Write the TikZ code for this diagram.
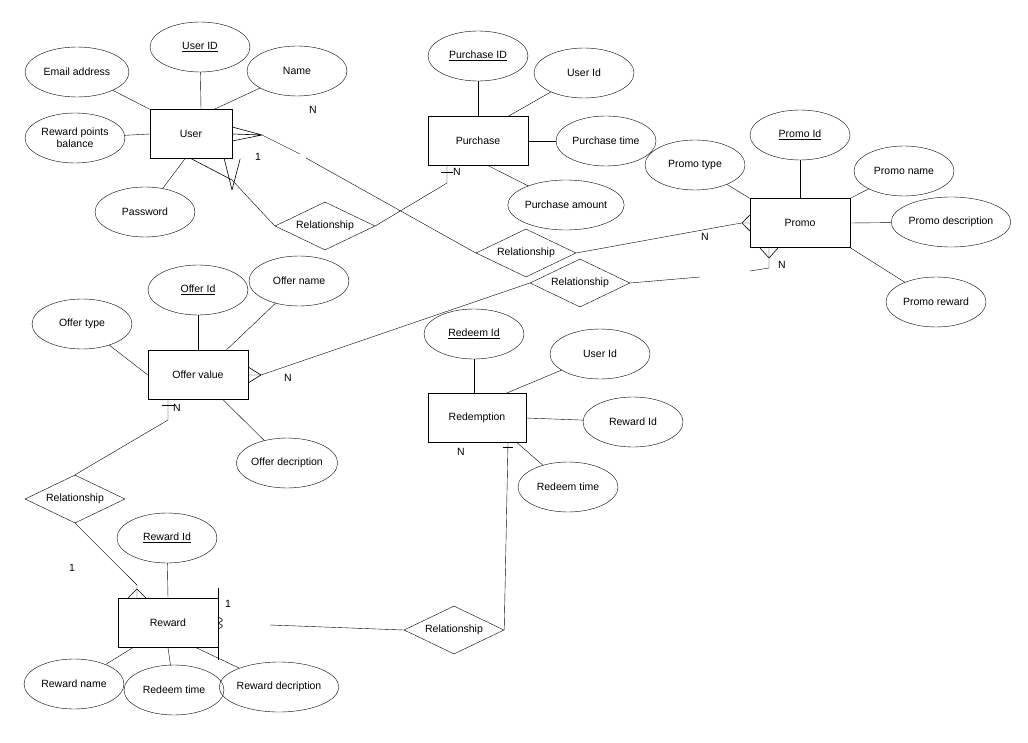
\documentclass[tikz,border=0pt]{standalone}
\usepackage{fontspec}
\setmainfont{Liberation Sans}
\usetikzlibrary{shapes.geometric}
\begin{document}
\begin{tikzpicture}[x=1pt,y=-1pt,
  every node/.style={font=\fontsize{10.5}{12}\selectfont},
  ent/.style={draw,minimum width=100pt,minimum height=49pt,inner sep=0},
  att/.style={draw,ellipse,minimum width=100pt,minimum height=50pt,inner sep=0,align=center},
  rel/.style={draw,diamond,aspect=2.2,minimum width=100pt,minimum height=48pt,inner sep=0},
  lbl/.style={font=\fontsize{10.5}{12}\selectfont},
  cf/.style={line width=0.6pt}]
\useasboundingbox (0,0) rectangle (1028,743);
\fill[white] (0,0) rectangle (1028,743);
% entities
\node[ent,minimum width=82pt] (user) at (191,134) {User};
\node[ent] (pur) at (478,141) {Purchase};
\node[ent] (promo) at (800,223) {Promo};
\node[ent] (offer) at (198,375) {Offer value};
\node[ent,minimum width=98pt] (red) at (477,418) {Redemption};
\node[ent] (rew) at (168,623) {Reward};
% attributes
\node[att] (uid) at (200,47) {\underline{User ID}};
\node[att,minimum width=104pt] (email) at (77,72) {Email address};
\node[att] (name) at (297,71) {Name};
\node[att] (rpb) at (75,138) {Reward points\\balance};
\node[att] (pw) at (145,212) {Password};
\node[att] (pid) at (478,56) {\underline{Purchase ID}};
\node[att] (puid) at (584,73) {User Id};
\node[att] (ptime) at (606,141) {Purchase time};
\node[att] (pamt) at (566,205) {Purchase amount};
\node[att] (ptype) at (695,165) {Promo type};
\node[att] (prid) at (800,135) {\underline{Promo Id}};
\node[att] (pname) at (904,171) {Promo name};
\node[att] (pdesc) at (951,222) {Promo description};
\node[att] (prew) at (936,302) {Promo reward};
\node[att] (oid) at (198,290) {\underline{Offer Id}};
\node[att] (oname) at (299,281) {Offer name};
\node[att] (otype) at (82,324) {Offer type};
\node[att] (odesc) at (287,463) {Offer decription};
\node[att] (rid) at (474,334) {\underline{Redeem Id}};
\node[att] (ruid) at (600,354) {User Id};
\node[att] (rwid) at (633,422) {Reward Id};
\node[att] (rtime) at (568,487) {Redeem time};
\node[att] (wid) at (167,538) {\underline{Reward Id}};
\node[att] (wname) at (74,684) {Reward name};
\node[att] (wtime) at (174,690) {Redeem time};
\node[att] (wdesc) at (279,687) {Reward decription};
% relationships
\node[rel] (r1) at (325,226) {Relationship};
\node[rel] (r2) at (526,253) {Relationship};
\node[rel] (r3) at (580,283) {Relationship};
\node[rel] (r4) at (75,499) {Relationship};
\node[rel] (r5) at (454,630) {Relationship};
% attribute lines
\draw (uid) -- ([xshift=10pt]user.north);
\draw (email) -- (user.north west);
\draw (name) -- ([xshift=-18pt]user.north east);
\draw (rpb) -- (user.west);
\draw (pw) -- ([xshift=-6pt]user.south);
\draw (pid) -- (pur.north);
\draw (puid) -- ([xshift=-20pt]pur.north east);
\draw (ptime) -- (pur.east);
\draw (pamt) -- ([xshift=-40pt]pur.south east);
\draw (ptype) -- (promo.north west);
\draw (prid) -- (promo.north);
\draw (pname) -- (promo.north east);
\draw (pdesc) -- (promo.east);
\draw (prew) -- (promo.south east);
\draw (oid) -- (offer.north);
\draw (oname) -- ([xshift=28pt]offer.north);
\draw (otype) -- (offer.west);
\draw (odesc) -- ([xshift=25pt]offer.south);
\draw (rid) -- ([xshift=-3pt]red.north);
\draw (ruid) -- ([xshift=-20pt]red.north east);
\draw (rwid) -- (red.east);
\draw (rtime) -- ([xshift=40pt]red.south);
\draw (wid) -- (rew.north);
\draw (wname) -- ([xshift=15pt]rew.south west);
\draw (wtime) -- (rew.south);
\draw (wdesc) -- ([xshift=-22pt]rew.south east);
% User -- Relationship2 -- Promo
\coordinate (ua) at (262,135);
\coordinate (ub) at (300,154);
\coordinate (uc) at (306,158);
\draw (ua) -- (ub);
\draw (uc) -- (r2.west);
\draw[cf] (ua) -- (user.east) (ua) -- ([yshift=7pt]user.east) (ua) -- ([yshift=-7pt]user.east);
\coordinate (pa) at (742,223);
\draw (r2.east) -- (730,225) -- (pa) -- (promo.west);
\draw[cf] (pa) -- ([yshift=8pt]promo.west) (pa) -- ([yshift=-8pt]promo.west);
% User -- Relationship1 -- Purchase
\coordinate (ud) at (232,180);
\draw (ud) -- (r1.west);
\draw[cf] (ud) -- ([xshift=-41pt]user.south east) ++(0,0);
\draw[cf] ([yshift=-10pt]ud) -- ([xshift=-8pt]user.south east) ([yshift=-10pt]ud) -- ([xshift=8pt]user.south east);
\coordinate (pb) at (447,183);
\draw (r1.east) -- (pb) -- (447,166);
\draw[cf] (441,172) -- (453,172);
% Offer -- Relationship3 -- (dangling)
\coordinate (oa) at (261,375);
\draw (r3.west) -- (oa) -- (offer.east);
\draw[cf] (oa) -- ([yshift=8pt]offer.east) (oa) -- ([yshift=-8pt]offer.east);
\coordinate (pe) at (700,277);
\draw (r3.east) -- (pe);
\coordinate (pc) at (769,258);
\draw (750,271) -- (769,268) -- (769,248);
\draw[cf] (pc) -- (760,248) (pc) -- (778,248);
% Offer -- Relationship4 -- Reward
\coordinate (of) at (168,420);
\draw (r4.north) -- (of) -- (168,400);
\draw[cf] (162,405) -- (174,405);
\coordinate (rw) at (137,585);
\draw (r4.south) -- (rw) -- (137,598);
\draw[cf] (137,589) -- (128,598) (137,589) -- (146,598);
% Reward -- Relationship5 -- Redemption
\draw (218,588) -- (218,660);
\draw[cf] (218,617) .. controls (224,620) .. (218,623) (218,623) .. controls (224,626) .. (218,629);
\coordinate (re) at (270,625);
\draw (re) -- (r5.west);
\coordinate (rd) at (508,443);
\draw (r5.east) -- (rd);
\draw[cf] (503,447) -- (513,447);
% cardinalities
\node[lbl] (c1) at (313,110) {N};
\node[lbl] (c2) at (258,157) {1};
\node[lbl] (c3) at (457,172) {N};
\node[lbl] (c4) at (705,237) {N};
\node[lbl] (c5) at (782,265) {N};
\node[lbl] (c6) at (288,378) {N};
\node[lbl] (c7) at (177,408) {N};
\node[lbl] (c8) at (461,452) {N};
\node[lbl] (c9) at (72,568) {1};
\node[lbl] (c10) at (228,604) {1};
\end{tikzpicture}
\end{document}
